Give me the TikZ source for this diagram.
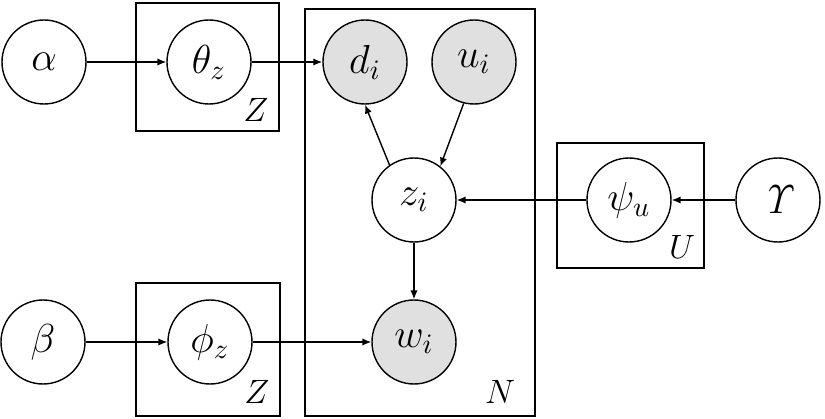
\documentclass[tikz,border=0pt]{standalone}
\usepackage{tikz}
\usetikzlibrary{arrows.meta}
\definecolor{obsGray}{RGB}{224,224,224}
\tikzset{
  varNode/.style={circle, draw=black, line width=0.5pt, minimum size=10.5mm, inner sep=0pt, font=\Large},
  obsNode/.style={varNode, fill=obsGray},
  plateBox/.style={draw=black, line width=0.5pt},
  plateLabel/.style={inner sep=0pt, font=\large},
  edgeArrow/.style={-{Latex[length=1.1mm, width=0.9mm]}, line width=0.5pt}
}

\begin{document}
\begin{tikzpicture}[x=0.125mm, y=-0.125mm]
  \useasboundingbox (0,0) rectangle (825,419);

  \draw[plateBox] (136,3) rectangle (279,131);
  \draw[plateBox] (305,9) rectangle (535,416);
  \draw[plateBox] (557,143) rectangle (704,268);
  \draw[plateBox] (136,283) rectangle (280,416);

  \node[plateLabel] (labelZtop) at (256,110) {$Z$};
  \node[plateLabel] (labelN) at (500,392) {$N$};
  \node[plateLabel] (labelU) at (682,247) {$U$};
  \node[plateLabel] (labelZbot) at (257,392) {$Z$};

  \node[varNode] (alpha) at (44,62) {$\alpha$};
  \node[varNode] (theta) at (209,62) {$\theta_z$};
  \node[obsNode] (d) at (365,62) {$d_i$};
  \node[obsNode] (u) at (474,62) {$u_i$};
  \node[varNode] (z) at (414,200) {$z_i$};
  \node[varNode] (psi) at (629,200) {$\psi_u$};
  \node[varNode] (upsilon) at (778,200) {$\mathit{\Upsilon}$};
  \node[varNode] (beta) at (43,342) {$\beta$};
  \node[varNode] (phi) at (210,342) {$\phi_z$};
  \node[obsNode] (w) at (414,342) {$w_i$};

  \draw[edgeArrow] (alpha) -- (theta);
  \draw[edgeArrow] (theta) -- (d);
  \draw[edgeArrow] (z.125) -- (d.south);
  \draw[edgeArrow] (u.256) -- (z.52);
  \draw[edgeArrow] (psi) -- (z);
  \draw[edgeArrow] (upsilon) -- (psi);
  \draw[edgeArrow] (z) -- (w);
  \draw[edgeArrow] (beta) -- (phi);
  \draw[edgeArrow] (phi) -- (w);

\end{tikzpicture}
\end{document}
